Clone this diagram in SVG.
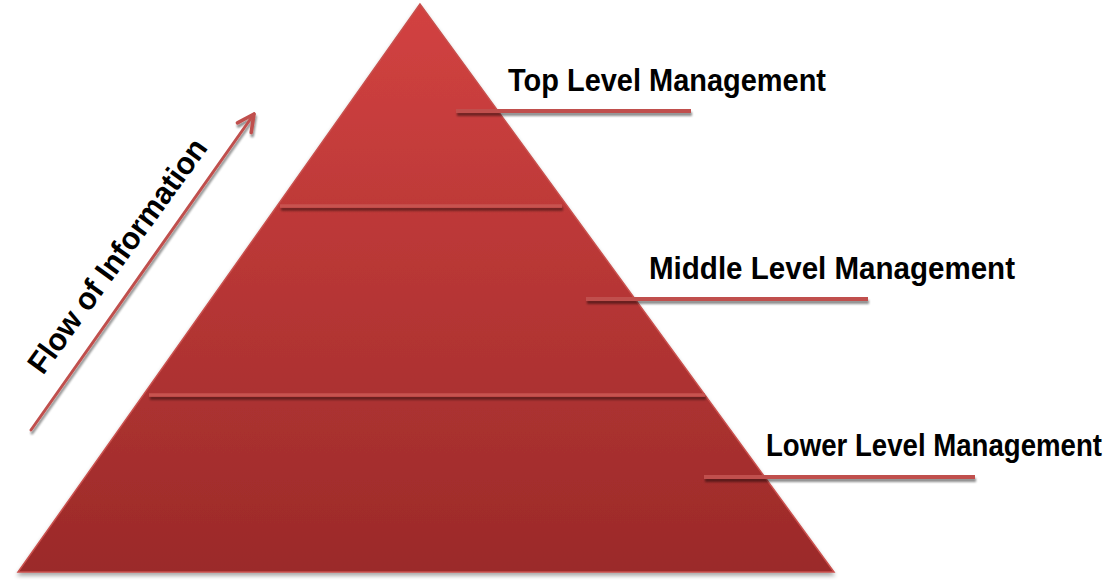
<svg xmlns="http://www.w3.org/2000/svg" width="1114" height="585" viewBox="0 0 1114 585">
<defs>
<linearGradient id="pg" x1="0" y1="0" x2="0" y2="1">
<stop offset="0" stop-color="#d24241"/>
<stop offset="1" stop-color="#9b2a29"/>
</linearGradient>
<filter id="sh" x="-10%" y="-10%" width="120%" height="130%">
<feGaussianBlur in="SourceAlpha" stdDeviation="2"/>
<feOffset dx="0" dy="3" result="b"/>
<feComponentTransfer><feFuncA type="linear" slope="0.35"/></feComponentTransfer>
<feMerge><feMergeNode/><feMergeNode in="SourceGraphic"/></feMerge>
</filter>
<filter id="lsh" x="-5%" y="-200%" width="110%" height="500%">
<feGaussianBlur in="SourceAlpha" stdDeviation="1.2"/>
<feOffset dx="1" dy="2.5"/>
<feComponentTransfer><feFuncA type="linear" slope="0.45"/></feComponentTransfer>
<feMerge><feMergeNode/><feMergeNode in="SourceGraphic"/></feMerge>
</filter>
<marker id="ah" viewBox="0 0 20 20" refX="17" refY="10" markerWidth="8" markerHeight="8" orient="auto" markerUnits="strokeWidth">
<path d="M3,3 L17,10 L3,17" fill="none" stroke="#c0504d" stroke-width="3" stroke-linecap="round" stroke-linejoin="round"/>
</marker>
<style>
.lbl{font-family:"Liberation Sans",Arial,sans-serif;font-weight:bold;font-size:31px;fill:#000}
.lead{stroke:#c0504d;stroke-width:4;fill:none}
.div{stroke:#c8524f;stroke-width:3.5;fill:none}
</style>
</defs>
<g id="pyramid" filter="url(#sh)">
<polygon points="420,4 18,572 834,572" fill="url(#pg)" stroke="#c9504d" stroke-width="1.5"/>
</g>
<g id="dividers" filter="url(#lsh)">
<line class="div" x1="280" y1="206" x2="562" y2="206"/>
<line class="div" x1="149" y1="395" x2="705" y2="395"/>
</g>
<g id="connectors" filter="url(#lsh)">
<line class="lead" x1="456" y1="111" x2="691" y2="111"/>
<line class="lead" x1="586" y1="299" x2="868" y2="299"/>
<line class="lead" x1="704" y1="477" x2="975" y2="477"/>
<line x1="31" y1="430" x2="254" y2="114" stroke="#c0504d" stroke-width="3" stroke-linecap="round" marker-end="url(#ah)"/>
</g>
<g id="top">
<text class="lbl" x="508" y="91" textLength="318" lengthAdjust="spacingAndGlyphs">Top Level Management</text>
</g>
<g id="middle">
<text class="lbl" x="649" y="279" textLength="366" lengthAdjust="spacingAndGlyphs">Middle Level Management</text>
</g>
<g id="lower">
<text class="lbl" transform="translate(766,456) scale(1,1.1)" x="0" y="0" style="font-size:28px" textLength="336" lengthAdjust="spacingAndGlyphs">Lower Level Management</text>
</g>
<g id="flow">
<text class="lbl" transform="translate(43,376) rotate(-54)" x="0" y="0" textLength="282" lengthAdjust="spacingAndGlyphs">Flow of Information</text>
</g>
</svg>
